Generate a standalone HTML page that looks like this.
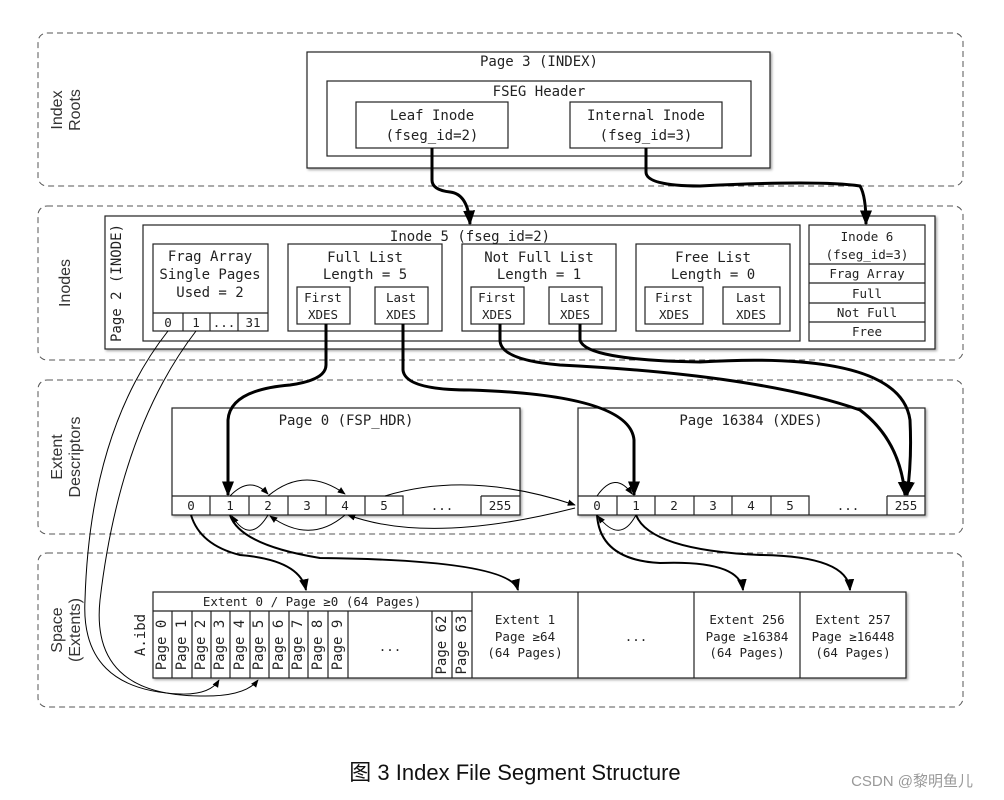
<!DOCTYPE html>
<html><head><meta charset="utf-8"><style>
html,body{margin:0;padding:0;background:#fff;}
svg{display:block;}
.m{font-family:"DejaVu Sans Mono","Liberation Mono",monospace;font-size:14px;fill:#222;}
.s{font-family:"Liberation Sans",sans-serif;font-size:16px;fill:#333;}
</style></head><body>
<svg width="1004" height="800" viewBox="0 0 1004 800" xmlns="http://www.w3.org/2000/svg">
<defs>
<marker id="ah" viewBox="0 0 10 10" refX="9" refY="5" markerUnits="userSpaceOnUse" markerWidth="8" markerHeight="8" orient="auto"><path d="M0,1 L10,5 L0,9 z" fill="#000"/></marker>
<marker id="am" viewBox="0 0 10 10" refX="9" refY="5" markerUnits="userSpaceOnUse" markerWidth="12" markerHeight="12" orient="auto"><path d="M0,1 L10,5 L0,9 z" fill="#000"/></marker>
<marker id="at" viewBox="0 0 10 10" refX="9" refY="5" markerUnits="userSpaceOnUse" markerWidth="15" markerHeight="15" orient="auto"><path d="M0,1 L10,5 L0,9 z" fill="#000"/></marker>
<filter id="sh" x="-5%" y="-5%" width="110%" height="115%"><feDropShadow dx="1.5" dy="1.5" stdDeviation="1.2" flood-color="#000" flood-opacity="0.35"/></filter>
</defs>
<g fill="none" stroke="#555" stroke-dasharray="6,4" stroke-width="1">
<rect x="38" y="33" width="925" height="153" rx="9"/>
<rect x="38" y="206" width="925" height="154" rx="9"/>
<rect x="38" y="380" width="925" height="154" rx="9"/>
<rect x="38" y="553" width="925" height="154" rx="9"/>
</g>
<g class="s" text-anchor="middle">
<text transform="translate(62,110) rotate(-90)">Index</text>
<text transform="translate(80,110) rotate(-90)">Roots</text>
<text transform="translate(70,283) rotate(-90)">Inodes</text>
<text transform="translate(62,457) rotate(-90)">Extent</text>
<text transform="translate(80,457) rotate(-90)">Descriptors</text>
<text transform="translate(62,630) rotate(-90)">Space</text>
<text transform="translate(80,630) rotate(-90)">(Extents)</text>
</g>
<g fill="#fff" stroke="#222" stroke-width="1.2">
<rect x="307" y="52" width="463" height="116" filter="url(#sh)"/>
<rect x="327" y="81" width="424" height="75"/>
<rect x="356" y="102" width="152" height="46"/>
<rect x="570" y="102" width="152" height="46"/>
<rect x="105" y="216" width="830" height="133" filter="url(#sh)"/>
<rect x="143" y="225" width="657" height="116"/>
<rect x="153" y="244" width="115" height="87"/>
<rect x="288" y="244" width="154" height="87"/>
<rect x="297" y="287" width="53" height="37"/>
<rect x="375" y="287" width="53" height="37"/>
<rect x="462" y="244" width="154" height="87"/>
<rect x="471" y="287" width="53" height="37"/>
<rect x="549" y="287" width="53" height="37"/>
<rect x="636" y="244" width="154" height="87"/>
<rect x="645" y="287" width="58" height="37"/>
<rect x="723" y="287" width="57" height="37"/>
<rect x="809" y="225" width="116" height="116"/>
<rect x="172" y="408" width="348" height="107" filter="url(#sh)"/>
<rect x="578" y="408" width="347" height="107" filter="url(#sh)"/>
<rect x="153" y="592" width="753" height="86" filter="url(#sh)"/>
</g>
<g stroke="#222" stroke-width="1.2" fill="none">
<path d="M153 313H268M183 313V331M210 313V331M238 313V331"/>
<path d="M809 264H925M809 283H925M809 303H925M809 322H925"/>
<path d="M172 496H403V515M481 496H520M481 496V515M210 496V515M249 496V515M288 496V515M326 496V515M365 496V515"/>
<path d="M578 496H809V515M887 496H925M887 496V515M617 496V515M655 496V515M694 496V515M732 496V515M771 496V515"/>
<path d="M153 611H472M472 592V678M578 592V678M694 592V678M800 592V678"/>
<path d="M172 611V678M192 611V678M211 611V678M230 611V678M250 611V678M269 611V678M289 611V678M308 611V678M328 611V678M348 611V678M432 611V678M452 611V678"/>
</g>
<g class="m" text-anchor="middle">
<text x="539" y="66">Page 3 (INDEX)</text>
<text x="539" y="96">FSEG Header</text>
<text x="432" y="120">Leaf Inode</text><text x="432" y="140">(fseg_id=2)</text>
<text x="646" y="120">Internal Inode</text><text x="646" y="140">(fseg_id=3)</text>
<text x="470" y="241">Inode 5 (fseg_id=2)</text>
<text x="210" y="261">Frag Array</text><text x="210" y="279">Single Pages</text><text x="210" y="297">Used = 2</text>
<text x="365" y="262">Full List</text><text x="365" y="279">Length = 5</text>
<text x="539" y="262">Not Full List</text><text x="539" y="279">Length = 1</text>
<text x="713" y="262">Free List</text><text x="713" y="279">Length = 0</text>
<g font-size="12.5">
<text x="168" y="327">0</text><text x="196" y="327">1</text><text x="224" y="327">...</text><text x="253" y="327">31</text>
<text x="323" y="302">First</text><text x="323" y="319">XDES</text>
<text x="401" y="302">Last</text><text x="401" y="319">XDES</text>
<text x="497" y="302">First</text><text x="497" y="319">XDES</text>
<text x="575" y="302">Last</text><text x="575" y="319">XDES</text>
<text x="674" y="302">First</text><text x="674" y="319">XDES</text>
<text x="751" y="302">Last</text><text x="751" y="319">XDES</text>
<text x="867" y="241">Inode 6</text><text x="867" y="259">(fseg_id=3)</text>
<text x="867" y="278">Frag Array</text><text x="867" y="298">Full</text><text x="867" y="317">Not Full</text><text x="867" y="336">Free</text>
<text x="191" y="510">0</text><text x="230" y="510">1</text><text x="268" y="510">2</text><text x="307" y="510">3</text><text x="345" y="510">4</text><text x="384" y="510">5</text><text x="442" y="510">...</text><text x="500" y="510">255</text>
<text x="597" y="510">0</text><text x="636" y="510">1</text><text x="674" y="510">2</text><text x="713" y="510">3</text><text x="751" y="510">4</text><text x="790" y="510">5</text><text x="848" y="510">...</text><text x="906" y="510">255</text>
<text x="312" y="606">Extent 0 / Page ≥0 (64 Pages)</text>
<text x="525" y="624">Extent 1</text><text x="525" y="641">Page ≥64</text><text x="525" y="657">(64 Pages)</text>
<text x="636" y="641">...</text>
<text x="747" y="624">Extent 256</text><text x="747" y="641">Page ≥16384</text><text x="747" y="657">(64 Pages)</text>
<text x="853" y="624">Extent 257</text><text x="853" y="641">Page ≥16448</text><text x="853" y="657">(64 Pages)</text>
<text x="390" y="651">...</text>
</g>
<text x="346" y="425">Page 0 (FSP_HDR)</text>
<text x="751" y="425">Page 16384 (XDES)</text>
<text transform="translate(121,283) rotate(-90)">Page 2 (INODE)</text>
<text transform="translate(145,635) rotate(-90)">A.ibd</text>
</g>
<g class="m" font-size="12" text-anchor="middle">
<text transform="translate(166,645) rotate(-90)">Page 0</text>
<text transform="translate(186,645) rotate(-90)">Page 1</text>
<text transform="translate(205,645) rotate(-90)">Page 2</text>
<text transform="translate(224,645) rotate(-90)">Page 3</text>
<text transform="translate(244,645) rotate(-90)">Page 4</text>
<text transform="translate(263,645) rotate(-90)">Page 5</text>
<text transform="translate(283,645) rotate(-90)">Page 6</text>
<text transform="translate(302,645) rotate(-90)">Page 7</text>
<text transform="translate(322,645) rotate(-90)">Page 8</text>
<text transform="translate(342,645) rotate(-90)">Page 9</text>
<text transform="translate(446,645) rotate(-90)">Page 62</text>
<text transform="translate(466,645) rotate(-90)">Page 63</text>
</g>
<g fill="none" stroke="#000" stroke-width="3" marker-end="url(#at)">
<path d="M432 148V180Q432 190 450 192Q468 194 470 224"/>
<path d="M646 148V172Q646 186 700 186Q820 180 860 186Q866 196 866 224"/>
<path d="M326 324V365Q326 380 290 385Q230 390 228 420V495"/>
<path d="M403 324V370Q405 390 470 390Q630 395 634 440V495"/>
<path d="M500 324V340Q500 360 560 365Q760 375 860 410Q900 440 905 495"/>
<path d="M580 324V340Q585 360 700 362Q900 350 910 420Q912 460 907 495"/>
</g>
<g fill="none" stroke="#000" stroke-width="2" marker-end="url(#am)">
<path d="M191 515Q200 545 240 555Q300 560 306 590"/>
<path d="M230 515Q240 545 320 558Q510 560 518 590"/>
<path d="M597 515Q600 560 660 563Q740 560 743 590"/>
<path d="M636 515Q650 550 760 555Q848 556 850 590"/>
</g>
<g fill="none" stroke="#000" stroke-width="1" marker-end="url(#ah)">
<path d="M230 496Q250 475 268 494"/>
<path d="M268 496Q305 465 345 494"/>
<path d="M385 496Q470 470 575 505"/>
<path d="M575 508Q430 545 348 515"/>
<path d="M345 515Q310 545 270 516"/>
<path d="M268 515Q250 545 232 516"/>
<path d="M597 496Q615 470 632 494"/>
<path d="M636 515Q620 545 598 516"/>
<path d="M168 331Q90 430 85 600Q80 690 180 694Q210 695 219 680"/>
<path d="M196 331Q120 430 100 600Q90 695 200 696Q245 697 258 680"/>
</g>
<text x="515" y="780" text-anchor="middle" font-family="'Liberation Sans','Noto Sans CJK SC',sans-serif" font-size="22" fill="#111">图  3 Index File Segment Structure</text>
<text x="973" y="786" text-anchor="end" font-family="'Liberation Sans','Noto Sans CJK SC',sans-serif" font-size="15" fill="#999">CSDN @黎明鱼儿</text>
</svg>
</body></html>
